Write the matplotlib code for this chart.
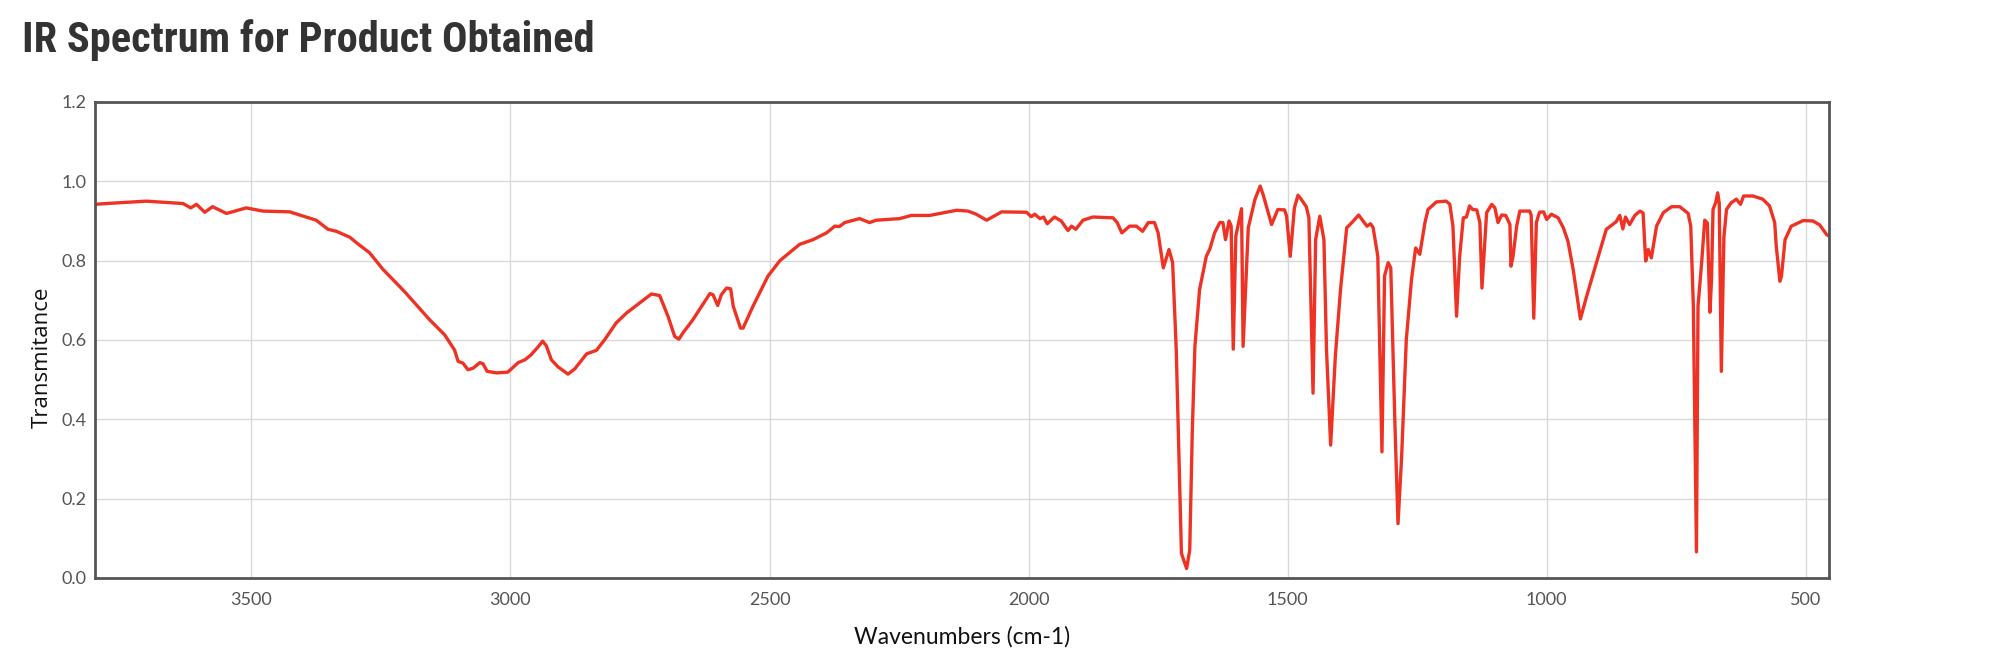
import matplotlib.pyplot as plt

# Spectrum (wavenumber in cm-1, transmitance)
wavenumbers = [
    3802, 3780, 3703, 3632, 3617, 3606, 3590, 3575, 3548, 3510, 3478, 3426,
    3375, 3352, 3336, 3310, 3297, 3272, 3246, 3214, 3201, 3156, 3127, 3108,
    3101, 3092, 3082, 3072, 3059, 3053, 3045, 3027, 3005, 2985, 2972, 2960,
    2947, 2938, 2931, 2921, 2908, 2889, 2876, 2853, 2834, 2818, 2796, 2776,
    2751, 2728, 2712, 2696, 2683, 2675, 2667, 2648, 2635, 2615, 2609, 2600,
    2593, 2583, 2575, 2570, 2556, 2551, 2532, 2503, 2480, 2442, 2416, 2390,
    2374, 2365, 2355, 2326, 2307, 2294, 2249, 2226, 2191, 2139, 2117, 2101,
    2081, 2052, 2004, 1995, 1988, 1978, 1971, 1964, 1950, 1937, 1924, 1917,
    1909, 1895, 1876, 1837, 1829, 1820, 1805, 1792, 1780, 1769, 1757, 1750,
    1740, 1729, 1722, 1715, 1705, 1695, 1689, 1684, 1679, 1670, 1657, 1650,
    1641, 1631, 1625, 1620, 1613, 1609, 1605, 1600, 1589, 1586, 1576, 1563,
    1560, 1553, 1547, 1531, 1519, 1506, 1502, 1495, 1487, 1480, 1474, 1464,
    1459, 1451, 1446, 1438, 1430, 1425, 1417, 1408, 1398, 1386, 1376, 1363,
    1347, 1340, 1335, 1326, 1318, 1313, 1306, 1301, 1293, 1287, 1280, 1271,
    1261, 1253, 1245, 1235, 1229, 1213, 1194, 1187, 1181, 1174, 1168, 1161,
    1155, 1149, 1143, 1135, 1129, 1125, 1116, 1106, 1100, 1094, 1087, 1079,
    1071, 1069, 1065, 1058, 1052, 1033, 1030, 1025, 1020, 1014, 1006, 1000,
    991, 978, 968, 959, 949, 935, 923, 904, 885, 875, 866, 859,
    853, 848, 840, 830, 820, 814, 809, 804, 798, 788, 775, 759,
    743, 727, 722, 717, 711, 708, 701, 695, 690, 685, 682, 679,
    674, 670, 667, 663, 658, 653, 644, 634, 626, 620, 602, 583,
    570, 560, 557, 550, 547, 540, 528, 505, 486, 473, 460, 455,
]
transmitance = [
    0.942, 0.944, 0.950, 0.944, 0.933, 0.942, 0.922, 0.936, 0.919, 0.933, 0.925, 0.923,
    0.902, 0.879, 0.874, 0.859, 0.845, 0.820, 0.778, 0.735, 0.717, 0.651, 0.613, 0.575,
    0.546, 0.542, 0.525, 0.529, 0.543, 0.540, 0.521, 0.517, 0.519, 0.543, 0.550, 0.563,
    0.582, 0.597, 0.586, 0.550, 0.532, 0.514, 0.527, 0.565, 0.574, 0.601, 0.643, 0.668,
    0.693, 0.716, 0.712, 0.660, 0.609, 0.602, 0.618, 0.651, 0.677, 0.717, 0.714, 0.687,
    0.714, 0.731, 0.729, 0.685, 0.630, 0.630, 0.685, 0.761, 0.800, 0.841, 0.853, 0.870,
    0.887, 0.886, 0.896, 0.906, 0.896, 0.902, 0.906, 0.914, 0.914, 0.927, 0.925, 0.917,
    0.902, 0.923, 0.922, 0.911, 0.917, 0.906, 0.910, 0.893, 0.910, 0.900, 0.876, 0.887,
    0.879, 0.902, 0.910, 0.908, 0.896, 0.870, 0.887, 0.887, 0.874, 0.896, 0.896, 0.870,
    0.782, 0.828, 0.795, 0.575, 0.062, 0.024, 0.070, 0.373, 0.584, 0.727, 0.811, 0.830,
    0.870, 0.896, 0.896, 0.853, 0.900, 0.887, 0.577, 0.862, 0.931, 0.584, 0.883, 0.955,
    0.965, 0.988, 0.965, 0.891, 0.929, 0.928, 0.912, 0.811, 0.933, 0.965, 0.955, 0.936,
    0.908, 0.466, 0.853, 0.912, 0.853, 0.575, 0.335, 0.558, 0.727, 0.883, 0.896, 0.915,
    0.887, 0.893, 0.883, 0.811, 0.318, 0.761, 0.795, 0.782, 0.390, 0.137, 0.306, 0.601,
    0.752, 0.832, 0.816, 0.896, 0.929, 0.948, 0.950, 0.942, 0.887, 0.660, 0.811, 0.908,
    0.910, 0.938, 0.929, 0.928, 0.896, 0.731, 0.921, 0.942, 0.933, 0.896, 0.915, 0.914,
    0.891, 0.786, 0.811, 0.887, 0.925, 0.925, 0.915, 0.655, 0.896, 0.922, 0.923, 0.904,
    0.917, 0.908, 0.883, 0.849, 0.778, 0.653, 0.710, 0.795, 0.879, 0.889, 0.898, 0.914,
    0.880, 0.910, 0.891, 0.914, 0.925, 0.920, 0.799, 0.828, 0.807, 0.887, 0.921, 0.936,
    0.936, 0.919, 0.887, 0.685, 0.066, 0.685, 0.795, 0.902, 0.895, 0.670, 0.750, 0.929,
    0.946, 0.971, 0.945, 0.521, 0.860, 0.929, 0.946, 0.955, 0.942, 0.963, 0.963, 0.955,
    0.938, 0.896, 0.837, 0.748, 0.760, 0.853, 0.887, 0.901, 0.900, 0.890, 0.866, 0.862,
]

x_ticks = [3500, 3000, 2500, 2000, 1500, 1000, 500]
y_ticks = [0.0, 0.2, 0.4, 0.6, 0.8, 1.0, 1.2]

narrow = ['Liberation Sans Narrow', 'Lato', 'DejaVu Sans']

fig = plt.figure(figsize=(19.94, 6.61), dpi=100)
ax = fig.add_axes([0.0476, 0.1256, 0.8697, 0.7201])

ax.plot(wavenumbers, transmitance, color='#ee3224', linewidth=2.4)

ax.set_xlim(3802, 455)
ax.set_ylim(0, 1.2)
ax.set_xticks(x_ticks)
ax.set_yticks(y_ticks)
ax.set_xticklabels([str(t) for t in x_ticks], family=narrow, fontsize=13, color='#555555')
ax.set_yticklabels(['%.1f' % t for t in y_ticks], family=narrow, fontsize=13, color='#555555')
ax.tick_params(length=0)
ax.tick_params(axis='x', pad=10)
ax.tick_params(axis='y', pad=6)
ax.grid(True, color='#d9d9d9', linewidth=1)
ax.set_axisbelow(True)

for s in ax.spines.values():
    s.set_color('#555555')
    s.set_linewidth(2)

ax.set_xlabel('Wavenumbers (cm-1)', family=narrow, fontsize=16.5, color='#111111', labelpad=13)
ax.set_ylabel('Transmitance', family=['Open Sans', 'DejaVu Sans'], fontsize=16,
              color='#111111')
ax.yaxis.set_label_coords(-0.0245, 0.463)

fig.text(0.011, 0.922, 'IR Spectrum for Product Obtained',
         family=['Roboto Condensed', 'Liberation Sans Narrow', 'Roboto', 'DejaVu Sans'],
         fontsize=30.5, fontweight='bold', color='#333333', va='baseline')

fig.savefig('out.png', dpi=100)
